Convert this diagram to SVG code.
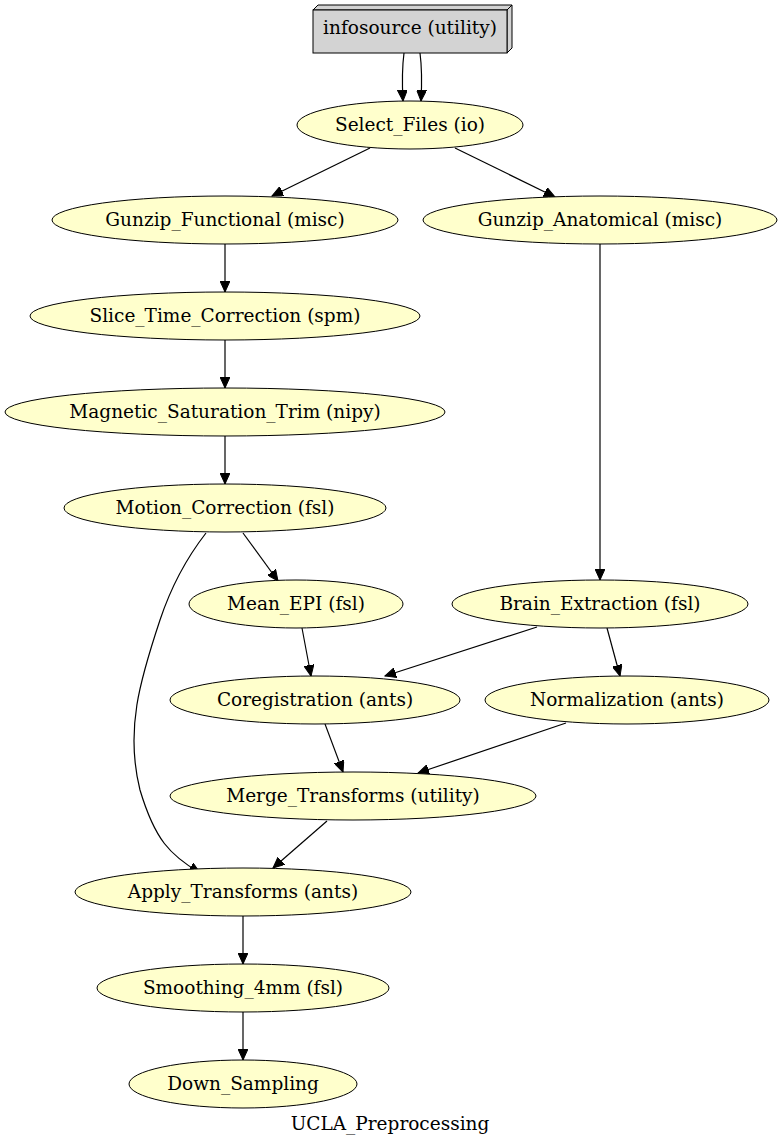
<svg xmlns="http://www.w3.org/2000/svg" width="782" height="1145" viewBox="0 0 782 1145">
<style>
.n ellipse{fill:#ffffcc;stroke:#000;stroke-width:1}
text{font-family:"DejaVu Serif","Liberation Serif",serif;font-size:18.5px;text-anchor:middle;fill:#000}
.e path{fill:none;stroke:#000;stroke-width:1.2;marker-end:url(#ah)}
</style>
<defs>
<marker id="ah" markerUnits="userSpaceOnUse" markerWidth="12" markerHeight="10" refX="11" refY="5" orient="auto">
<path d="M0,0 L11,5 L0,10 Z" fill="#000" stroke="#000" stroke-width="1"/>
</marker>
</defs>
<rect width="782" height="1145" fill="#fff"/>
<g class="e" id="edges">
<path d="M404,53 C402,68 402,82 403,101"/>
<path d="M420,53 C422,68 422,82 421,101"/>
<path d="M370,148 L272,196"/>
<path d="M455,148 L555,197"/>
<path d="M225,244 L225,292"/>
<path d="M225,340 L225,388"/>
<path d="M225,436 L225,484"/>
<path d="M243,533 L278,581"/>
<path d="M206,533 C185,560 170,590 160,620 C140,680 125,730 140,790 C155,840 170,855 200,873"/>
<path d="M302,628 L311,676"/>
<path d="M537,627 L385,676"/>
<path d="M607,628 L620,676"/>
<path d="M600,244 L600,580"/>
<path d="M325,724 L343,772"/>
<path d="M566,723 L418,773"/>
<path d="M327,821 L273,868"/>
<path d="M243,916 L243,964"/>
<path d="M243,1012 L243,1060"/>
</g>
<g id="infosource">
<polygon points="313,10 318,5 512,5 507,10" fill="#d3d3d3" stroke="#000"/>
<polygon points="507,10 512,5 512,48 507,53" fill="#d3d3d3" stroke="#000"/>
<rect x="313" y="10" width="194" height="43" fill="#d3d3d3" stroke="#000"/>
<text x="410" y="34">infosource (utility)</text>
</g>
<g class="n" id="select_files"><ellipse cx="410" cy="125" rx="113" ry="24"/><text x="410" y="131">Select_Files (io)</text></g>
<g class="n" id="gunzip_functional"><ellipse cx="225" cy="220" rx="173" ry="24"/><text x="225" y="226">Gunzip_Functional (misc)</text></g>
<g class="n" id="gunzip_anatomical"><ellipse cx="600" cy="220" rx="177" ry="24"/><text x="600" y="226">Gunzip_Anatomical (misc)</text></g>
<g class="n" id="slice_time"><ellipse cx="225" cy="316" rx="195" ry="24"/><text x="225" y="322">Slice_Time_Correction (spm)</text></g>
<g class="n" id="magnetic"><ellipse cx="225" cy="412" rx="220" ry="24"/><text x="225" y="418">Magnetic_Saturation_Trim (nipy)</text></g>
<g class="n" id="motion"><ellipse cx="225" cy="508" rx="161" ry="24"/><text x="225" y="514">Motion_Correction (fsl)</text></g>
<g class="n" id="mean_epi"><ellipse cx="296" cy="604" rx="107" ry="24"/><text x="296" y="610">Mean_EPI (fsl)</text></g>
<g class="n" id="brain"><ellipse cx="600" cy="604" rx="148" ry="24"/><text x="600" y="610">Brain_Extraction (fsl)</text></g>
<g class="n" id="coreg"><ellipse cx="315" cy="700" rx="145" ry="24"/><text x="315" y="706">Coregistration (ants)</text></g>
<g class="n" id="norm"><ellipse cx="627" cy="700" rx="142" ry="24"/><text x="627" y="706">Normalization (ants)</text></g>
<g class="n" id="merge"><ellipse cx="353" cy="796" rx="183" ry="24"/><text x="353" y="802">Merge_Transforms (utility)</text></g>
<g class="n" id="apply"><ellipse cx="243" cy="892" rx="168" ry="24"/><text x="243" y="898">Apply_Transforms (ants)</text></g>
<g class="n" id="smooth"><ellipse cx="243" cy="988" rx="146" ry="24"/><text x="243" y="994">Smoothing_4mm (fsl)</text></g>
<g class="n" id="down"><ellipse cx="243" cy="1084" rx="114" ry="24"/><text x="243" y="1090">Down_Sampling</text></g>
<text x="390" y="1130">UCLA_Preprocessing</text>
</svg>
